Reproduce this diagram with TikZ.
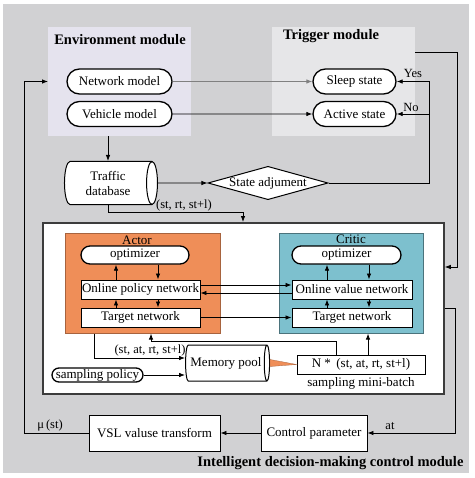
\documentclass[tikz,border=0pt]{standalone}
\usepackage{fontspec}
\setmainfont{Liberation Serif}
\usetikzlibrary{arrows.meta,positioning,shapes.geometric,shapes.misc}
\definecolor{bggray}{RGB}{209,209,211}
\definecolor{envcol}{RGB}{229,227,238}
\definecolor{trigcol}{RGB}{230,230,232}
\definecolor{actorcol}{RGB}{239,142,88}
\definecolor{criticcol}{RGB}{125,192,206}
\definecolor{framecol}{RGB}{60,60,60}
\definecolor{linegray}{RGB}{128,128,128}
\begin{document}
\begin{tikzpicture}[x=1pt,y=-1pt,on grid,>={Latex[length=6pt,width=4.5pt]},
		font=\fontsize{13}{15}\selectfont,
		area/.style={rectangle,inner sep=0pt,anchor=north west},
		pill/.style={rounded rectangle,draw=black,line width=1.3pt,fill=white,inner sep=0pt},
		block/.style={rectangle,draw=black,line width=0.9pt,fill=white,inner sep=0pt},
		dbase/.style={cylinder,draw=black,line width=1pt,fill=white,aspect=0.45,inner sep=0pt,align=center},
		decision/.style={diamond,draw=black,line width=1pt,fill=white,aspect=3.6,inner sep=0pt},
		heading/.style={font=\fontsize{14.5}{17}\selectfont\bfseries},
		lbl/.style={font=\fontsize{12.5}{14}\selectfont,inner sep=0pt},
		conn/.style={line width=0.8pt}]
		\useasboundingbox (0,0) rectangle (474,478);
		\fill[bggray] (3,4) rectangle (469,473);
		
		\node[area,fill=envcol,minimum width=143pt,minimum height=109pt] (envbox) at (48,27) {};
		\node[area,fill=trigcol,minimum width=143pt,minimum height=109pt] (trigbox) at (272,27) {};
		\node[heading] (envtitle) at (120,40) {Environment module};
		\node[heading] (trigtitle) at (331,36) {Trigger module};
		
		\node[pill,minimum width=105pt,minimum height=25pt] (netmodel) at (119.5,81.5) {Network model};
		\node[pill,minimum width=105pt,minimum height=25pt] (vehmodel) [below=32.5pt of netmodel] {Vehicle model};
		\node[pill,minimum width=83pt,minimum height=25pt] (sleep) at (354.5,81.5) {Sleep state};
		\node[pill,minimum width=83pt,minimum height=25pt] (active) [below=32.5pt of sleep] {Active state};
		
		\node[dbase,minimum width=43pt,minimum height=93pt] (trafdb) at (108,183) {Traffic\\database};
		\node[decision,minimum width=114pt,minimum height=32pt] (stadj) at (268,183) {State adjument};
		
		\node[area,fill=white,draw=framecol,line width=1.8pt,minimum width=401pt,minimum height=171pt] (mainbox) at (42,222) {};
		
		\node[area,fill=actorcol,draw=actorcol!70!black,line width=0.6pt,minimum width=155pt,minimum height=100pt] (actorbox) at (65,233) {};
		\node (actortitle) at (137,240) {Actor};
		\node[pill,minimum width=108pt,minimum height=18pt] (aopt) at (135,255) {optimizer};
		\node[block,minimum width=119pt,minimum height=19pt] (apol) at (140.5,289.5) {Online policy network};
		\node[block,minimum width=119pt,minimum height=19pt] (atar) [below=28pt of apol] {Target network};
		
		\node[area,fill=criticcol,draw=criticcol!60!black,line width=0.6pt,minimum width=144pt,minimum height=100pt] (criticbox) at (279,233) {};
		\node (critictitle) at (351,239) {Critic};
		\node[pill,minimum width=109pt,minimum height=18pt] (copt) at (346.5,255) {optimizer};
		\node[block,minimum width=120pt,minimum height=19pt] (cval) at (352,289.5) {Online value network};
		\node[block,minimum width=120pt,minimum height=19pt] (ctar) [below=28pt of cval] {Target network};
		
		\node[dbase,minimum width=36pt,minimum height=84pt] (mempool) at (226,363) {Memory pool};
		\node[pill,minimum width=91pt,minimum height=14pt] (samppol) at (97.5,375) {sampling policy};
		\node[block,minimum width=128pt,minimum height=19pt] (nbatch) at (361,364.5) {N * \,(st, at, rt, st+l)};
		\node (minibatch) [below=18.5pt of nbatch] {sampling mini-batch};
		
		\node[block,minimum width=106pt,minimum height=36pt] (ctrl) at (314,433) {Control parameter};
		\node[block,minimum width=131pt,minimum height=36pt] (vsl) at (154.5,433) {VSL valuse transform};
		\node[heading,anchor=east] (dmtitle) at (467,463) {Intelligent decision-making control module};
		
		\node[lbl] (dblbl) at (184,205) {(st, rt, st+l)};
		\node[lbl] (poollbl) at (150,350) {(st, at, rt, st+l)};
		\node[lbl] (yes) at (413,73) {Yes};
		\node[lbl] (no) at (411,107) {No};
		\node[lbl] (atlbl) at (390,426) {at};
		\node[lbl] (mulbl) at (50,425) {μ\,(st)};
		
		\path[->,conn]
		(netmodel) edge[draw=linegray] (sleep)
		(vehmodel) edge (active)
		(trafdb) edge (stadj)
		(atar) edge (ctar)
		(ctrl) edge (vsl);
		
		\coordinate (yn) at (429,183);
		\draw[->,conn] (stadj.east) -- (yn) |- (sleep.east);
		\draw[->,conn] (yn |- active.east) -- (active.east);
		\draw[->,conn] (envbox.south -| trafdb.north) -- (trafdb.north);
		\draw[->,conn] (trafdb.south) |- (243,212) -- (mainbox.north -| 243,0);
		\draw[->,conn] (trigbox.east |- 0,52) -| (457,267) -- (mainbox.east |- 0,267);
		
		\draw[->,conn] (apol.north -| 116,0) -- (aopt.south -| 116,0);
		\draw[->,conn] (aopt.south -| 158,0) -- (apol.north -| 158,0);
		\draw[->,conn] (atar.north -| 116,0) -- (apol.south -| 116,0);
		\draw[->,conn] (apol.south -| 158,0) -- (atar.north -| 158,0);
		\draw[->,conn] (cval.north -| 327,0) -- (copt.south -| 327,0);
		\draw[->,conn] (copt.south -| 369,0) -- (cval.north -| 369,0);
		\draw[->,conn] (ctar.north -| 327,0) -- (cval.south -| 327,0);
		\draw[->,conn] (cval.south -| 369,0) -- (ctar.north -| 369,0);
		\draw[->,conn] (apol.east |- 0,285) -- (cval.west |- 0,285);
		\draw[<-,conn] (apol.east |- 0,293) -- (cval.west |- 0,293);
		
		\draw[->,conn] (nbatch.north -| 336,0) |- (151,341) -- (actorbox.south -| 151,0);
		\draw[->,conn] (nbatch.north -| 368,0) -- (criticbox.south -| 368,0);
		\draw[->,conn] (actorbox.south -| 94,0) |- (mempool.west |- 0,358);
		\draw[->,conn] (samppol.east) -- (mempool.west |- samppol.east);
		\filldraw[fill=actorcol,draw=actorcol!70!black,line width=0.3pt] ([yshift=3.5pt]mempool.east) -- (nbatch.west) -- ([yshift=-3.5pt]mempool.east) -- cycle;
		
		\draw[->,conn] (mainbox.east |- 0,308) -| (ctrl.east -| 455,0) -- (ctrl.east);
		\draw[->,conn] (vsl.west) -| (24,81.5) -- (envbox.west |- netmodel);
		\end{tikzpicture}
\end{document}
